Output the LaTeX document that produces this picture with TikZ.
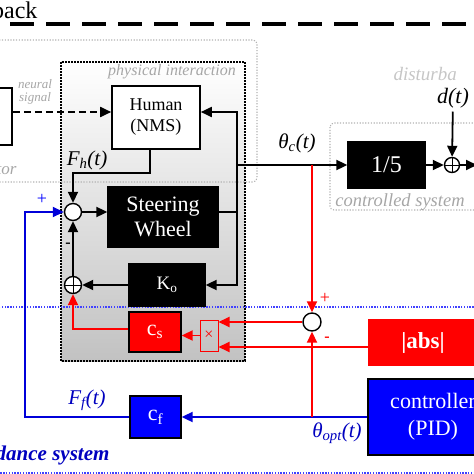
\documentclass[tikz,border=0pt]{standalone}
\usepackage{fontspec}
\setmainfont{Liberation Serif}
\usetikzlibrary{arrows.meta}

\tikzset{
  blk/.style={draw=black, line width=1.3pt, fill=black, text=white, align=center, inner sep=0pt},
  sumnode/.style={circle, draw=black, line width=1.4pt, fill=white, minimum size=#1, inner sep=0pt},
  pluscircle/.style={sumnode=#1, path picture={\draw[line width=0.6pt] (path picture bounding box.north) -- (path picture bounding box.south) (path picture bounding box.west) -- (path picture bounding box.east);}},
  arr/.style={line width=1.8pt, -{Triangle[length=11pt,width=10pt]}},
  redarr/.style={arr, red},
  bluearr/.style={arr, blue!85!black},
  greytxt/.style={gray!70, font=\itshape\fontsize{#1}{#1}\selectfont},
  mathtxt/.style={font=\itshape\fontsize{21}{23}\selectfont},
}

\begin{document}
\begin{tikzpicture}[x=1pt,y=-1pt]
\useasboundingbox (0,0) rectangle (474,474);
%\draw[help lines] (0,0) grid[step=50] (474,474);
\fill[top color=white, bottom color=black!24] (61,62) rectangle (245,361);
\draw[dash pattern=on 1.6pt off 1.4pt, line width=1.6pt] (61,62) rectangle (245,361);
\draw[gray!60, dash pattern=on 1.2pt off 1.6pt, line width=1.1pt, rounded corners=4pt] (-10,40) rectangle (257,182);
\draw[gray!60, dash pattern=on 1.2pt off 1.6pt, line width=1.1pt, rounded corners=4pt] (330,123) rectangle (490,210);
\draw[blue!75, dash pattern=on 1.4pt off 1.4pt, line width=1.3pt] (-10,307) rectangle (490,473);
\draw[line width=4pt, dash pattern=on 24pt off 12pt] (-26,24) -- (468,24);

\node[anchor=east, font=\fontsize{24}{26}\selectfont] (fbtxt) at (41,10) {back};
\node[greytxt=16] (pitxt) at (172,72) {physical interaction};
\node[greytxt=13, align=center] (neural) at (35,92) {neural\\signal};
\node[greytxt=17, anchor=east] (optxt) at (20,170) {tor};
\node[greytxt=18.5] (cstxt) at (400,202) {controlled system};
\node[greytxt=19, gray!45, anchor=west] (distxt) at (390,74) {disturba};
\node[blue!75!black, anchor=east, font=\bfseries\itshape\fontsize{21}{23}\selectfont] (gstxt) at (113,455) {dance system};

\node[draw, line width=1.6pt, minimum width=32pt, minimum height=57pt] (cns) at (-4,116.5) {};
\node[draw, line width=1.6pt, fill=white, minimum width=88pt, minimum height=63pt, align=center, font=\fontsize{18}{21}\selectfont] (human) at (156,117.5) {Human\\(NMS)};
\node[blk, minimum width=110pt, minimum height=61pt, font=\fontsize{22}{25}\selectfont] (sw) at (163,217) {Steering\\Wheel};
\node[blk, minimum width=76pt, minimum height=42pt, font=\fontsize{19}{21}\selectfont] (ko) at (167,285) {K\textsubscript{o}};
\node[sumnode=17pt] (sumA) at (73,212) {};
\node[pluscircle=17pt] (sumB) at (73,285) {};
\node[blk, fill=red, minimum width=52pt, minimum height=40pt, font=\fontsize{22}{24}\selectfont] (cs) at (155,332) {c\textsubscript{s}};
\node[draw=red, line width=1pt, minimum width=18pt, minimum height=31pt, inner sep=0pt, text=red, font=\fontsize{16}{16}\selectfont] (mult) at (209,335.5) {×};
\node[sumnode=18pt] (sumC) at (312,322) {};
\node[fill=red, minimum width=110pt, minimum height=47pt, inner sep=0pt, text=white, font=\bfseries\fontsize{23}{25}\selectfont] (abs) at (423,342.5) {|abs|};
\node[blk, fill=blue, minimum width=130pt, minimum height=76pt, font=\fontsize{22}{27}\selectfont] (ctrl) at (433,417) {controller\\(PID)};
\node[blk, fill=blue, minimum width=51pt, minimum height=42pt, font=\fontsize{22}{24}\selectfont] (cf) at (155.5,417) {c\textsubscript{f}};
\node[blk, minimum width=77pt, minimum height=46pt, font=\fontsize{24}{26}\selectfont] (five) at (386.5,165) {1/5};
\node[pluscircle=15pt] (sumD) at (452,165) {};
\node[font=\itshape\fontsize{22}{24}\selectfont] (dt) at (453,98) {d(t)};

\node[mathtxt] (fhtxt) at (87,160) {F\textsubscript{h}(t)};
\node[mathtxt] (thc) at (297,143) {θ\textsubscript{c}(t)};
\node[mathtxt, blue!75!black] (fftxt) at (87,400) {F\textsubscript{f}(t)};
\node[mathtxt, blue!75!black] (thopt) at (337,433) {θ\textsubscript{opt}(t)};
\node[blue, font=\fontsize{18}{18}\selectfont] (pA) at (42,199) {+};
\node[font=\bfseries\fontsize{16}{16}\selectfont] (mA) at (68,245) {-};
\node[red, font=\fontsize{18}{18}\selectfont] (pC) at (325,298) {+};
\node[red, font=\bfseries\fontsize{16}{16}\selectfont] (mC) at (327,339) {-};

\coordinate (hin) at ([yshift=5.5]human.west);
\coordinate (hfb) at ([yshift=5.5]human.east);
\coordinate (jn) at (237,212);
\coordinate (fh) at (73,173);
\coordinate (out) at (477,165);
\coordinate (ain) at ([yshift=-4.5]abs.west);
\coordinate (ffl) at (25,417);

\draw[arr, dash pattern=on 7pt off 4pt] (cns.east |- hin) -- (hin);
\draw[arr] ([xshift=-6]human.south) |- (fh) -- (sumA);
\draw[arr] (sumA) -- (sumA -| sw.west);
\draw[line width=1.8pt] (sw.east |- sumA) -- (jn);
\draw[arr] (jn) |- (hfb);
\draw[arr] (jn) |- (ko);
\draw[arr] (jn |- five) -- (five);
\draw[arr] (ko) -- (sumB);
\draw[arr] (sumB) -- (sumA);
\draw[arr] (five) -- (sumD);
\draw[arr] (dt) -- (sumD);
\draw[arr] (sumD) -- (out);

\draw[bluearr] (ctrl) -- (cf);
\draw[bluearr] (cf) -- (ffl) |- (sumA);

\draw[redarr] (sumC |- five) -- (sumC);
\draw[redarr] (sumC |- ctrl) -- (sumC);
\draw[redarr] (sumC) -- (sumC -| mult.east);
\draw[redarr] (ain) -- (ain -| mult.east);
\draw[redarr] (mult) -- (mult -| cs.east);
\draw[redarr] ([yshift=3]cs.west) -| (sumB);
\end{tikzpicture}
\end{document}
